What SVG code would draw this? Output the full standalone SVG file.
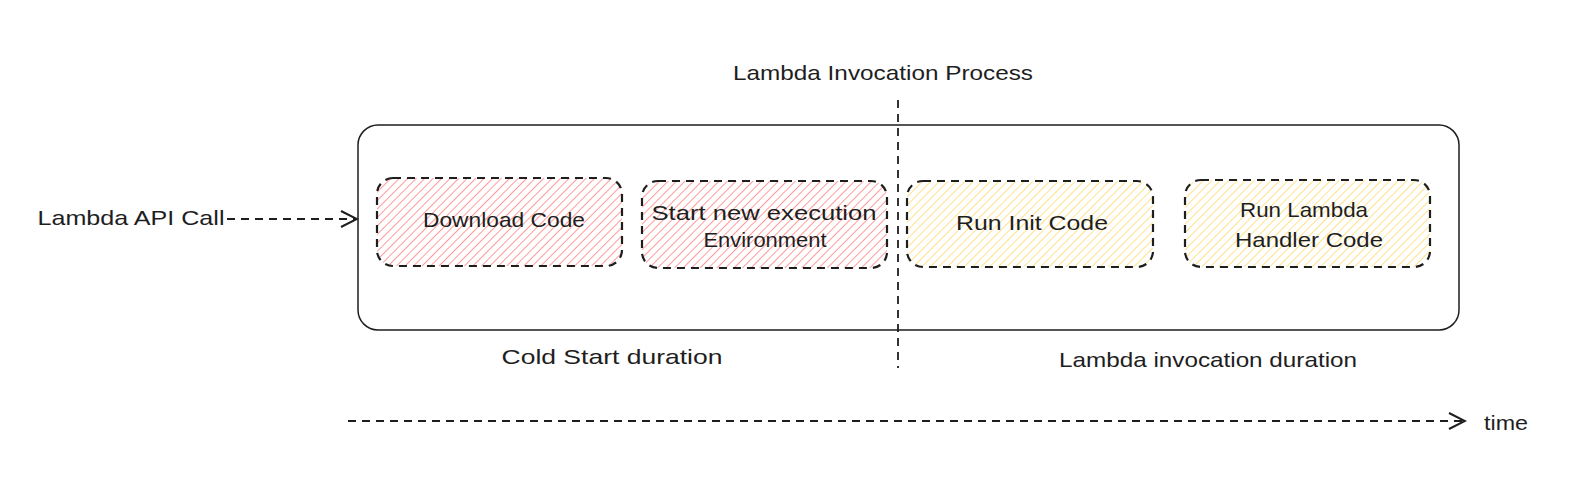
<svg xmlns="http://www.w3.org/2000/svg" width="1576" height="498" viewBox="0 0 1576 498">
<style>
.t{font-family:"Liberation Sans","Open Sans",sans-serif;font-size:21px;fill:#1e1e1e;text-anchor:middle}
.box{stroke:#1e1e1e;stroke-width:2.2;stroke-dasharray:8 6}
.red{fill:url(#hr)}
.yel{fill:url(#hy)}
.dash{fill:none;stroke:#1e1e1e;stroke-width:1.8;stroke-dasharray:8 6}
</style>
<defs>
<pattern id="hr" width="6" height="6" patternUnits="userSpaceOnUse" patternTransform="rotate(45)">
<rect width="6" height="6" fill="#fff"/>
<line x1="0" y1="0" x2="0" y2="6" stroke="#ff9b9b" stroke-width="2"/>
</pattern>
<pattern id="hy" width="6" height="6" patternUnits="userSpaceOnUse" patternTransform="rotate(45)">
<rect width="6" height="6" fill="#fff"/>
<line x1="0" y1="0" x2="0" y2="6" stroke="#ffe28a" stroke-width="2"/>
</pattern>
<marker id="ah" viewBox="0 0 20 20" refX="18" refY="10" markerWidth="20" markerHeight="20" markerUnits="userSpaceOnUse" orient="auto">
<path d="M2 2 L18 10 L2 18" fill="none" stroke="#1e1e1e" stroke-width="2"/>
</marker>
</defs>
<rect width="1576" height="498" fill="#fff"/>
<g id="container">
<rect x="358" y="125" width="1101" height="205" rx="20" fill="none" stroke="#1e1e1e" stroke-width="1.5"/>
</g>
<g id="title"><text class="t" x="883" y="80" textLength="300" lengthAdjust="spacingAndGlyphs">Lambda Invocation Process</text></g>
<g id="api-call"><text class="t" x="131" y="225" textLength="187" lengthAdjust="spacingAndGlyphs">Lambda API Call</text></g>
<g id="download-code">
<rect class="box red" x="377" y="178" width="245" height="88" rx="16"/>
<text class="t" x="504" y="227" textLength="162" lengthAdjust="spacingAndGlyphs">Download Code</text>
</g>
<g id="start-env">
<rect class="box red" x="642" y="181" width="245" height="87" rx="16"/>
<text class="t" x="764" y="220" textLength="225" lengthAdjust="spacingAndGlyphs">Start new execution</text>
<text class="t" x="765" y="247" textLength="123" lengthAdjust="spacingAndGlyphs">Environment</text>
</g>
<g id="run-init">
<rect class="box yel" x="907" y="181" width="246" height="86" rx="16"/>
<text class="t" x="1032" y="230" textLength="152" lengthAdjust="spacingAndGlyphs">Run Init Code</text>
</g>
<g id="run-handler">
<rect class="box yel" x="1185" y="180" width="245" height="87" rx="16"/>
<text class="t" x="1304" y="217" textLength="128" lengthAdjust="spacingAndGlyphs">Run Lambda</text>
<text class="t" x="1309" y="247" textLength="148" lengthAdjust="spacingAndGlyphs">Handler Code</text>
</g>
<g id="labels">
<text class="t" x="612" y="364" textLength="221" lengthAdjust="spacingAndGlyphs">Cold Start duration</text>
<text class="t" x="1208" y="367" textLength="298" lengthAdjust="spacingAndGlyphs">Lambda invocation duration</text>
<text class="t" x="1506" y="430" textLength="44" lengthAdjust="spacingAndGlyphs">time</text>
</g>
<g id="connectors">
<line class="dash" x1="898" y1="100" x2="898" y2="368"/>
<line class="dash" x1="227" y1="219" x2="357" y2="219" marker-end="url(#ah)"/>
<line class="dash" x1="348" y1="421" x2="1465" y2="421" marker-end="url(#ah)"/>
</g>
</svg>
